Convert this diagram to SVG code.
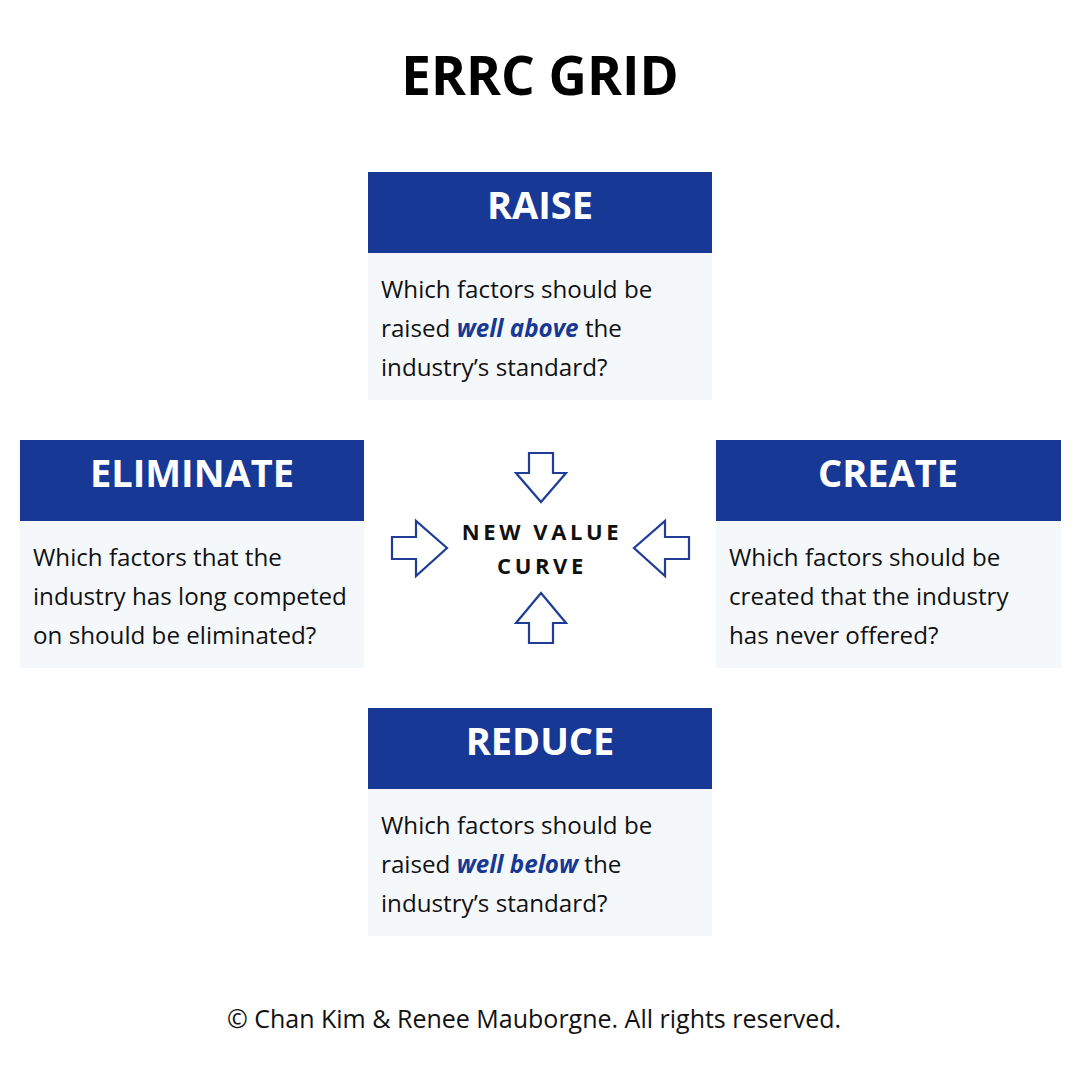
<svg xmlns="http://www.w3.org/2000/svg" width="1080" height="1080" viewBox="0 0 1080 1080">
<style>
.hd{fill:#183896}
.bd{fill:#f5f8fa}
.ht{font-family:"Open Sans",sans-serif;font-weight:700;font-size:38px;fill:#fff;text-anchor:middle}
.tx{font-family:"Open Sans",sans-serif;font-size:24.2px;fill:#111}
.em{fill:#183896;font-weight:700;font-style:italic}
.ar{fill:#fff;stroke:#1f3c99;stroke-width:2.2;stroke-linejoin:miter}
.ct{font-family:"Open Sans",sans-serif;font-weight:700;font-size:22px;fill:#111;text-anchor:middle;letter-spacing:3.6px}
</style>
<rect width="1080" height="1080" fill="#fff"/>
<text x="540" y="95" font-family="Open Sans,sans-serif" font-weight="700" font-size="53" text-anchor="middle" fill="#000">ERRC GRID</text>
<g id="raise">
<rect class="hd" x="368" y="172" width="344" height="81"/>
<rect class="bd" x="368" y="253" width="344" height="147"/>
<text class="ht" x="540" y="219">RAISE</text>
<text class="tx" x="381" y="298">Which factors should be</text>
<text class="tx" x="381" y="337">raised <tspan class="em">well above</tspan> the</text>
<text class="tx" x="381" y="376">industry’s standard?</text>
</g>
<g id="eliminate">
<rect class="hd" x="20" y="440" width="344" height="81"/>
<rect class="bd" x="20" y="521" width="344" height="147"/>
<text class="ht" x="192" y="487">ELIMINATE</text>
<text class="tx" x="33" y="566">Which factors that the</text>
<text class="tx" x="33" y="605">industry has long competed</text>
<text class="tx" x="33" y="644">on should be eliminated?</text>
</g>
<g id="create">
<rect class="hd" x="716" y="440" width="345" height="81"/>
<rect class="bd" x="716" y="521" width="345" height="147"/>
<text class="ht" x="888" y="487">CREATE</text>
<text class="tx" x="729" y="566">Which factors should be</text>
<text class="tx" x="729" y="605">created that the industry</text>
<text class="tx" x="729" y="644">has never offered?</text>
</g>
<g id="reduce">
<rect class="hd" x="368" y="708" width="344" height="81"/>
<rect class="bd" x="368" y="789" width="344" height="147"/>
<text class="ht" x="540" y="755">REDUCE</text>
<text class="tx" x="381" y="834">Which factors should be</text>
<text class="tx" x="381" y="873">raised <tspan class="em">well below</tspan> the</text>
<text class="tx" x="381" y="912">industry’s standard?</text>
</g>
<g id="center">
<text class="ct" x="542" y="540">NEW VALUE</text>
<text class="ct" x="542" y="574">CURVE</text>
</g>
<g id="connectors">
<polygon class="ar" points="529,453 553,453 553,473 566,473 541,502 516,473 529,473"/>
<polygon class="ar" points="529,643 553,643 553,623 566,623 541,593 516,623 529,623"/>
<polygon class="ar" points="392,537 416,537 416,521 447,548 416,576 416,559 392,559"/>
<polygon class="ar" points="689,537 665,537 665,521 634,548 665,576 665,559 689,559"/>
</g>
<text x="534" y="1028" font-family="Open Sans,sans-serif" font-size="25" text-anchor="middle" fill="#111">© Chan Kim &amp; Renee Mauborgne. All rights reserved.</text>
</svg>
